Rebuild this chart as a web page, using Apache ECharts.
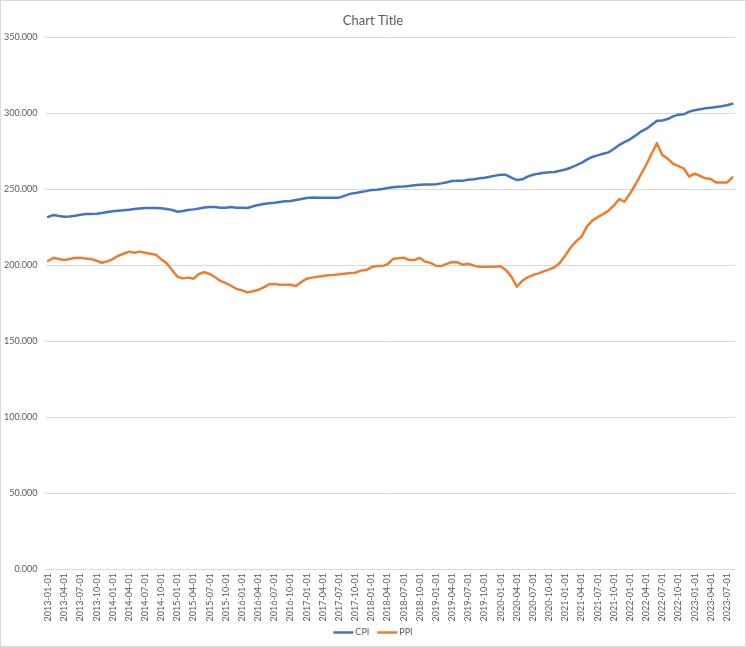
<!DOCTYPE html>
<html>
<head>
<meta charset="utf-8">
<script src="https://cdn.jsdelivr.net/npm/echarts@6/dist/echarts.min.js"></script>
<style>
html,body{margin:0;padding:0;background:#fff;}
#wrap{width:746px;height:647px;box-sizing:border-box;border:1px solid #d9d9d9;}
#chart{width:744px;height:645px;}
</style>
</head>
<body>
<div id="wrap"><div id="chart"></div></div>
<script>
var categories = [
"2013-01-01","2013-02-01","2013-03-01","2013-04-01","2013-05-01","2013-06-01","2013-07-01","2013-08-01","2013-09-01","2013-10-01","2013-11-01","2013-12-01",
"2014-01-01","2014-02-01","2014-03-01","2014-04-01","2014-05-01","2014-06-01","2014-07-01","2014-08-01","2014-09-01","2014-10-01","2014-11-01","2014-12-01",
"2015-01-01","2015-02-01","2015-03-01","2015-04-01","2015-05-01","2015-06-01","2015-07-01","2015-08-01","2015-09-01","2015-10-01","2015-11-01","2015-12-01",
"2016-01-01","2016-02-01","2016-03-01","2016-04-01","2016-05-01","2016-06-01","2016-07-01","2016-08-01","2016-09-01","2016-10-01","2016-11-01","2016-12-01",
"2017-01-01","2017-02-01","2017-03-01","2017-04-01","2017-05-01","2017-06-01","2017-07-01","2017-08-01","2017-09-01","2017-10-01","2017-11-01","2017-12-01",
"2018-01-01","2018-02-01","2018-03-01","2018-04-01","2018-05-01","2018-06-01","2018-07-01","2018-08-01","2018-09-01","2018-10-01","2018-11-01","2018-12-01",
"2019-01-01","2019-02-01","2019-03-01","2019-04-01","2019-05-01","2019-06-01","2019-07-01","2019-08-01","2019-09-01","2019-10-01","2019-11-01","2019-12-01",
"2020-01-01","2020-02-01","2020-03-01","2020-04-01","2020-05-01","2020-06-01","2020-07-01","2020-08-01","2020-09-01","2020-10-01","2020-11-01","2020-12-01",
"2021-01-01","2021-02-01","2021-03-01","2021-04-01","2021-05-01","2021-06-01","2021-07-01","2021-08-01","2021-09-01","2021-10-01","2021-11-01","2021-12-01",
"2022-01-01","2022-02-01","2022-03-01","2022-04-01","2022-05-01","2022-06-01","2022-07-01","2022-08-01","2022-09-01","2022-10-01","2022-11-01","2022-12-01",
"2023-01-01","2023-02-01","2023-03-01","2023-04-01","2023-05-01","2023-06-01","2023-07-01","2023-08-01"
];

var cpi = [
231.7,232.9,232.2,231.8,231.9,232.4,233.0,233.5,233.6,233.7,234.2,234.8,
235.4,235.7,236.0,236.4,236.9,237.2,237.5,237.5,237.5,237.4,236.9,236.2,
235.0,235.5,236.2,236.6,237.2,237.8,238.2,238.1,237.6,237.7,238.1,237.7,
237.7,237.5,238.6,239.5,240.1,240.6,240.9,241.4,241.9,242.1,242.8,243.4,
244.1,244.4,244.3,244.3,244.3,244.3,244.3,245.5,246.8,247.3,248.0,248.6,
249.3,249.5,250.0,250.6,251.2,251.5,251.6,252.0,252.4,252.8,252.9,252.9,
253.1,253.7,254.4,255.3,255.4,255.5,256.1,256.4,257.0,257.4,258.1,258.8,
259.4,259.3,257.5,255.9,256.4,258.1,259.4,260.1,260.7,261.0,261.2,262.0,
262.8,264.0,265.5,267.2,269.3,271.1,272.1,273.2,274.1,276.3,278.9,280.9,
282.7,285.1,287.7,289.5,292.1,294.9,295.1,296.0,297.8,298.9,299.1,300.9,
301.8,302.4,303.1,303.5,303.9,304.4,305.1,306.1
];

var ppi = [
202.6,204.8,203.9,203.3,203.9,204.6,204.8,204.2,203.9,202.8,201.5,202.4,
203.9,206.1,207.4,208.8,208.1,208.8,208.1,207.4,206.8,203.7,201.1,196.7,
192.3,191.2,191.7,191.0,194.1,195.2,194.1,191.9,189.5,188.0,186.2,184.2,
183.3,182.0,182.7,183.6,185.3,187.3,187.5,187.0,187.0,187.0,186.2,188.8,
191.0,191.7,192.2,192.8,193.2,193.4,193.9,194.3,194.7,194.9,196.3,196.7,
198.5,199.3,199.3,200.5,203.9,204.4,204.8,203.3,203.3,204.6,202.2,201.4,
199.5,199.3,200.7,202.0,201.8,200.1,200.8,199.6,198.9,198.9,198.9,198.9,
199.2,196.6,192.3,185.7,189.5,191.9,193.4,194.5,195.8,197.1,198.5,201.5,
206.3,211.5,215.5,218.7,225.3,229.2,231.5,233.5,235.8,239.0,243.4,241.7,
247.0,252.8,259.3,265.8,273.0,280.1,272.4,270.0,266.6,265.1,263.5,258.1,
260.1,258.7,257.0,256.6,254.2,254.2,254.2,257.7
];

var yTicks = [0, 50, 100, 150, 200, 250, 300, 350];

var chart = echarts.init(document.getElementById('chart'));
var txt = '#595959';
chart.setOption({
  animation: false,
  backgroundColor: '#ffffff',
  title: {
    text: 'Chart Title',
    left: 'center',
    top: 8,
    textStyle: { fontFamily: 'Lato', fontSize: 13, fontWeight: 'normal', color: txt }
  },
  legend: {
    bottom: 4,
    left: 'center',
    icon: 'rect',
    itemWidth: 20,
    itemHeight: 2.5,
    itemGap: 8,
    textStyle: { fontFamily: 'Lato', fontSize: 9, color: txt, padding: [0,0,0,-3] },
    data: ['CPI', 'PPI']
  },
  grid: { left: 44, right: 10, top: 36, bottom: 77, containLabel: false },
  xAxis: {
    type: 'category',
    data: categories,
    boundaryGap: true,
    axisLine: { show: true, lineStyle: { color: '#d9d9d9', width: 1 } },
    axisTick: { show: false },
    axisLabel: {
      interval: 2,
      rotate: 90,
      margin: 4,
      fontFamily: 'Lato',
      fontSize: 9,
      color: txt
    },
    splitLine: { show: false }
  },
  yAxis: {
    type: 'value',
    min: yTicks[0],
    max: yTicks[yTicks.length - 1],
    interval: 50,
    axisLine: { show: false },
    axisTick: { show: false },
    axisLabel: {
      margin: 8,
      fontFamily: 'Lato',
      fontSize: 9,
      color: txt,
      formatter: function (v) { return v.toFixed(3); }
    },
    splitLine: { show: true, lineStyle: { color: '#d9d9d9', width: 1 } }
  },
  series: [
    {
      name: 'CPI',
      type: 'line',
      data: cpi,
      showSymbol: false,
      symbol: 'none',
      lineStyle: { color: '#4472C4', width: 2.5, cap: 'round', join: 'round' },
      itemStyle: { color: '#4472C4' }
    },
    {
      name: 'PPI',
      type: 'line',
      data: ppi,
      showSymbol: false,
      symbol: 'none',
      lineStyle: { color: '#ED7D31', width: 2.5, cap: 'round', join: 'round' },
      itemStyle: { color: '#ED7D31' }
    }
  ]
});
</script>
</body>
</html>
